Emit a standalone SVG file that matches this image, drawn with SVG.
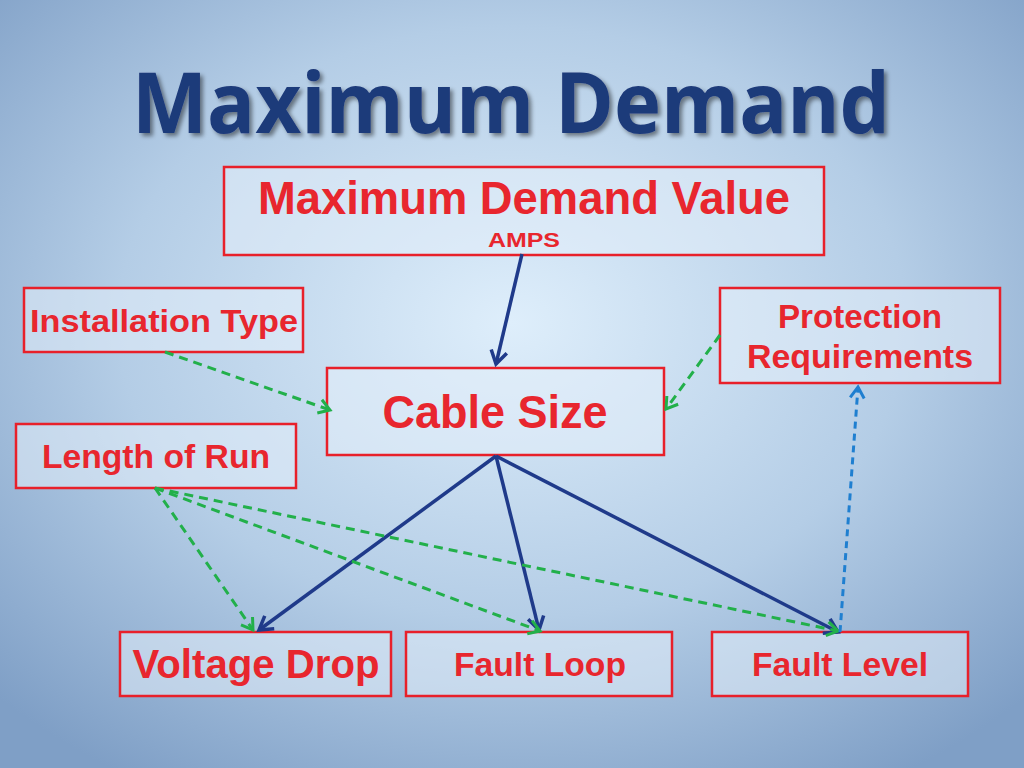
<svg xmlns="http://www.w3.org/2000/svg" width="1024" height="768" viewBox="0 0 1024 768">
<defs>
<radialGradient id="bg" cx="50%" cy="42%" r="70%">
<stop offset="0" stop-color="#deeefb"/><stop offset="0.55" stop-color="#b4cde6"/><stop offset="1" stop-color="#7f9fc6"/>
</radialGradient>
<marker id="an" refX="0" refY="0" markerWidth="30" markerHeight="30" orient="auto" markerUnits="userSpaceOnUse" style="overflow:visible"><polyline points="-13,-8 0,0 -13,8" fill="none" stroke="#1f3a8a" stroke-width="3.5"/></marker>
<marker id="ag" refX="0" refY="0" markerWidth="30" markerHeight="30" orient="auto" markerUnits="userSpaceOnUse" style="overflow:visible"><polyline points="-11,-7 0,0 -11,7" fill="none" stroke="#22b04a" stroke-width="3"/></marker>
<marker id="ab" refX="0" refY="0" markerWidth="30" markerHeight="30" orient="auto" markerUnits="userSpaceOnUse" style="overflow:visible"><polyline points="-11,-7 0,0 -11,7" fill="none" stroke="#1f7fd0" stroke-width="3"/></marker>
<filter id="sh"><feDropShadow dx="3" dy="3" stdDeviation="2" flood-color="#000" flood-opacity="0.45"/></filter>
</defs>
<style>
.box{fill:#e4effa;fill-opacity:0.55;stroke:#e8202a;stroke-width:2.5}
.t{font-family:"Liberation Sans",Arial,sans-serif;font-weight:bold;fill:#e8262e;text-anchor:middle}
.s{stroke:#1f3a8a;stroke-width:3.5;fill:none}
.g{stroke:#22b04a;stroke-width:3;stroke-dasharray:9,6;fill:none}
.b{stroke:#1f7fd0;stroke-width:3;stroke-dasharray:7,5;fill:none}
</style>
<rect width="1024" height="768" fill="url(#bg)"/>
<text x="511" y="133" font-family="Open Sans,sans-serif" font-weight="bold" font-size="84" fill="#1f3a7a" text-anchor="middle" textLength="758" lengthAdjust="spacingAndGlyphs" filter="url(#sh)">Maximum Demand</text>
<g id="n-mdv"><rect class="box" x="224" y="167" width="600" height="88"/><text class="t" x="524" y="214" font-size="46" textLength="532" lengthAdjust="spacingAndGlyphs">Maximum Demand Value</text><text class="t" x="524" y="247" font-size="20" textLength="72" lengthAdjust="spacingAndGlyphs">AMPS</text></g>
<g id="n-inst"><rect class="box" x="24" y="288" width="279" height="64"/><text class="t" x="164" y="332" font-size="32" textLength="268" lengthAdjust="spacingAndGlyphs">Installation Type</text></g>
<g id="n-prot"><rect class="box" x="720" y="288" width="280" height="95"/><text class="t" x="860" y="328" font-size="33" textLength="164" lengthAdjust="spacingAndGlyphs">Protection</text><text class="t" x="860" y="368" font-size="33" textLength="226" lengthAdjust="spacingAndGlyphs">Requirements</text></g>
<g id="n-cable"><rect class="box" x="327" y="368" width="337" height="87"/><text class="t" x="495" y="428" font-size="47" textLength="225" lengthAdjust="spacingAndGlyphs">Cable Size</text></g>
<g id="n-len"><rect class="box" x="16" y="424" width="280" height="64"/><text class="t" x="156" y="468" font-size="33" textLength="228" lengthAdjust="spacingAndGlyphs">Length of Run</text></g>
<g id="n-vd"><rect class="box" x="120" y="632" width="271" height="64"/><text class="t" x="256" y="678" font-size="40" textLength="247" lengthAdjust="spacingAndGlyphs">Voltage Drop</text></g>
<g id="n-floop"><rect class="box" x="406" y="632" width="266" height="64"/><text class="t" x="540" y="676" font-size="33" textLength="172" lengthAdjust="spacingAndGlyphs">Fault Loop</text></g>
<g id="n-flev"><rect class="box" x="712" y="632" width="256" height="64"/><text class="t" x="840" y="676" font-size="33" textLength="176" lengthAdjust="spacingAndGlyphs">Fault Level</text></g>
<g id="connectors">
<line class="s" x1="522" y1="254" x2="496" y2="364" marker-end="url(#an)"/>
<line class="s" x1="496" y1="456" x2="259" y2="630" marker-end="url(#an)"/>
<line class="s" x1="496" y1="456" x2="539" y2="630" marker-end="url(#an)"/>
<line class="s" x1="496" y1="456" x2="838" y2="632" marker-end="url(#an)"/>
<line class="g" x1="165" y1="352" x2="330" y2="410" marker-end="url(#ag)"/>
<line class="g" x1="720" y1="335" x2="666" y2="409" marker-end="url(#ag)"/>
<line class="g" x1="155" y1="488" x2="253" y2="630" marker-end="url(#ag)"/>
<line class="g" x1="155" y1="488" x2="540" y2="631" marker-end="url(#ag)"/>
<line class="g" x1="155" y1="488" x2="838" y2="631" marker-end="url(#ag)"/>
<line class="b" x1="840" y1="632" x2="858" y2="387" marker-end="url(#ab)"/>
</g>
</svg>
